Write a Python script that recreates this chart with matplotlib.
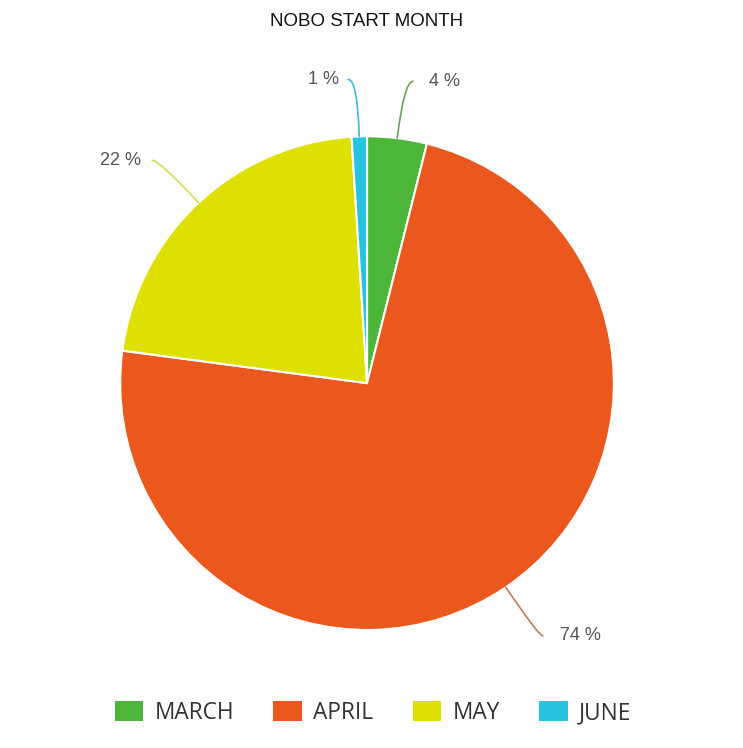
import matplotlib.pyplot as plt
import numpy as np

# Data
months = ['MARCH', 'APRIL', 'MAY', 'JUNE']
shares = [3.9, 73.2, 21.9, 1.0]
labels = ['4 %', '74 %', '22 %', '1 %']
colors = ['#4db63a', '#eb581d', '#dde000', '#27c4e1']
line_colors = ['#6aa05a', '#b8805e', '#d4dc5a', '#3fbcd4']

fig = plt.figure(figsize=(7.43, 7.48), dpi=100)
ax = fig.add_axes([0.1615, 0.1578, 0.665, 0.660])

wedges, _ = ax.pie(shares, colors=colors, startangle=90, counterclock=False,
                   radius=1, wedgeprops=dict(edgecolor='white', linewidth=1.5))
ax.set_xlim(-1, 1)
ax.set_ylim(-1, 1)
ax.set_aspect('equal')

# label anchor (pixel coords of the reference) -> data coords
cx, cy, r = 367, 383, 247
text_px = [(429, 81), (560, 636), (141, 160), (339, 79)]
gaps = [16, 17, 11, 9]
for w, lab, (tx, ty), lc, g in zip(wedges, labels, text_px, line_colors, gaps):
    mid = (w.theta1 + w.theta2) / 2
    ang = np.deg2rad(mid)
    xy = (np.cos(ang), np.sin(ang))
    txy = ((tx - cx) / r, (cy - ty) / r)
    ha = 'left' if txy[0] > xy[0] else 'right'
    ex = txy[0] - g / r if ha == 'left' else txy[0] + g / r
    ax.annotate(lab, xy=xy, xytext=txy, fontsize=13, color='#555555',
                family='Liberation Sans', ha=ha, va='center',
                annotation_clip=False)
    ax.annotate('', xy=xy, xytext=(ex, txy[1]),
                arrowprops=dict(arrowstyle='-', color=lc, lw=1.2,
                                connectionstyle='angle3,angleA=0,angleB=%.1f' % mid,
                                shrinkA=0, shrinkB=0),
                annotation_clip=False)

fig.text(0.494, 1 - 22 / 748, 'NOBO START MONTH', ha='center', va='center',
         fontsize=13.5, family='Liberation Sans', color='#111111')

leg = fig.legend(wedges, months, loc='center', bbox_to_anchor=(0.502, 1 - 713 / 748),
                 ncol=4, frameon=False, handlelength=1.25,
                 handleheight=1.0, handletextpad=0.5, columnspacing=1.75,
                 prop=dict(family='Open Sans', size=16.3))
for t in leg.get_texts():
    t.set_color('#333333')
for h in leg.legend_handles:
    h.set_edgecolor('none')

fig.savefig('out.png', dpi=100)
